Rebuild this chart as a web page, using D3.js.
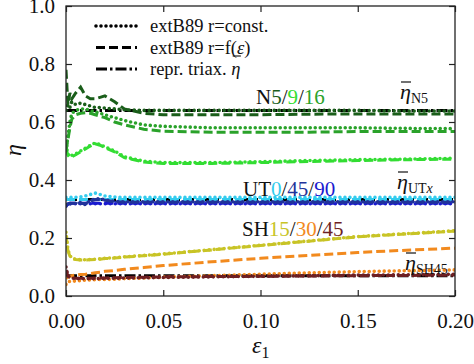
<!DOCTYPE html>
<html><head><meta charset="utf-8">
<script src="https://cdn.jsdelivr.net/npm/d3@7"></script>
<style>body{margin:0;background:#fff}svg text{font-family:"Liberation Serif","Times New Roman",serif !important}</style>
</head><body><svg id="c" width="474" height="364"></svg>
<script>
const strain = [0,0.001,0.002,0.003,0.005,0.0075,0.01,0.0125,0.015,0.0175,0.02,0.025,0.03,0.04,0.05,0.075,0.1,0.125,0.15,0.175,0.2];
const xTicks = [0,0.05,0.10,0.15,0.20];
const yTicks = [0,0.2,0.4,0.6,0.8,1.0];
const N5_const = [0.64,0.66,0.65,0.67,0.66,0.665,0.66,0.655,0.65,0.65,0.648,0.645,0.642,0.64,0.64,0.64,0.64,0.64,0.64,0.638,0.638];
const N5_f     = [0.78,0.66,0.70,0.68,0.70,0.72,0.69,0.68,0.68,0.685,0.69,0.67,0.645,0.63,0.625,0.625,0.625,0.627,0.628,0.628,0.628];
const N16_const= [0.50,0.55,0.60,0.63,0.64,0.645,0.645,0.64,0.635,0.63,0.625,0.615,0.605,0.59,0.585,0.58,0.58,0.58,0.58,0.578,0.577];
const N16_f    = [0.50,0.54,0.58,0.61,0.625,0.63,0.632,0.63,0.625,0.62,0.615,0.60,0.59,0.575,0.568,0.565,0.565,0.565,0.567,0.567,0.567];
const N9_const = [0.52,0.49,0.48,0.485,0.49,0.50,0.51,0.52,0.528,0.522,0.515,0.50,0.48,0.465,0.46,0.46,0.463,0.467,0.47,0.472,0.475];
const N9_f     = [0.51,0.485,0.478,0.48,0.487,0.497,0.507,0.517,0.525,0.52,0.512,0.497,0.477,0.462,0.457,0.457,0.46,0.464,0.467,0.47,0.472];
const UT0_const= [0.34,0.34,0.34,0.34,0.34,0.342,0.345,0.35,0.355,0.35,0.345,0.341,0.34,0.34,0.34,0.34,0.34,0.34,0.34,0.34,0.34];
const UT0_f    = [0.333,0.333,0.333,0.333,0.333,0.333,0.333,0.333,0.333,0.333,0.333,0.333,0.333,0.333,0.333,0.333,0.333,0.333,0.333,0.333,0.333];
const UT45_const=[0.31,0.315,0.318,0.32,0.32,0.322,0.315,0.33,0.335,0.335,0.332,0.326,0.325,0.325,0.325,0.325,0.325,0.325,0.325,0.325,0.325];
const UT45_f   = [0.315,0.318,0.32,0.32,0.32,0.32,0.318,0.328,0.332,0.333,0.33,0.325,0.323,0.323,0.323,0.323,0.323,0.323,0.323,0.323,0.323];
const UT90_const=[0.31,0.315,0.318,0.318,0.318,0.318,0.318,0.318,0.318,0.318,0.318,0.318,0.318,0.318,0.318,0.318,0.318,0.318,0.318,0.318,0.318];
const UT90_f   = [0.312,0.316,0.32,0.32,0.32,0.32,0.32,0.32,0.32,0.32,0.32,0.32,0.32,0.32,0.32,0.32,0.32,0.32,0.32,0.32,0.32];
const SH15_const=[0.22,0.16,0.14,0.13,0.127,0.125,0.125,0.126,0.127,0.128,0.13,0.132,0.135,0.14,0.145,0.16,0.175,0.19,0.205,0.215,0.225];
const SH15_f   = [0.21,0.155,0.138,0.13,0.126,0.124,0.124,0.125,0.126,0.127,0.129,0.131,0.134,0.139,0.144,0.159,0.174,0.189,0.204,0.214,0.224];
const SH30_const=[0.04,0.05,0.05,0.05,0.052,0.053,0.055,0.055,0.056,0.057,0.057,0.058,0.06,0.062,0.065,0.07,0.075,0.08,0.084,0.087,0.09];
const SH30_f   = [0.06,0.065,0.068,0.07,0.072,0.074,0.075,0.077,0.08,0.082,0.085,0.088,0.092,0.098,0.105,0.118,0.13,0.14,0.15,0.158,0.165];
const SH45_const=[0.10,0.07,0.065,0.062,0.06,0.06,0.06,0.06,0.06,0.06,0.061,0.061,0.062,0.063,0.064,0.066,0.068,0.07,0.072,0.073,0.075];
const SH45_f   = [0.09,0.068,0.064,0.062,0.061,0.061,0.061,0.061,0.062,0.062,0.062,0.063,0.064,0.065,0.066,0.067,0.068,0.069,0.07,0.071,0.072];
const reprX = [0,0.2];
const repr_N5 = [0.64,0.64];
const repr_UT = [0.333,0.333];
const repr_SH = [0.07,0.07];

const col = {N5:"#1a5e1a",N9:"#33dd33",N16:"#2aa22a",UT0:"#33ccee",UT45:"#22339a",UT90:"#1a1ad0",SH15:"#c8c426",SH30:"#f28a1e",SH45:"#6e1f22"};
const series = [
  ["N9",N9_const,N9_f],["N16",N16_const,N16_f],["N5",N5_const,N5_f],
  ["UT0",UT0_const,UT0_f],["UT90",UT90_const,UT90_f],["UT45",UT45_const,UT45_f],
  ["SH15",SH15_const,SH15_f],["SH30",SH30_const,SH30_f],["SH45",SH45_const,SH45_f]
];
const FF = "'Liberation Serif','Times New Roman',serif";
const svg = d3.select("#c");
const L=66,R=455,T=6,B=296;
const x = d3.scaleLinear().domain([0,0.2]).range([L,R]);
const y = d3.scaleLinear().domain([0,1]).range([B,T]);
const line = d3.line().x(d=>x(d[0])).y(d=>y(d[1]));
const pts = v => strain.map((s,i)=>[s,v[i]]);
svg.append("clipPath").attr("id","cl").append("rect").attr("x",L).attr("y",T).attr("width",R-L).attr("height",B-T);
const g = svg.append("g").attr("clip-path","url(#cl)");

const DOT = {dash:"0,5",w:3.6,cap:"round"}, DASH={dash:"9,4",w:3,cap:"butt"}, DD={dash:"11,3,2.5,3",w:3,cap:"butt"};
function draw(p,c,st){ g.append("path").datum(p).attr("d",line).attr("fill","none").attr("stroke",c).attr("stroke-width",st.w).attr("stroke-dasharray",st.dash).attr("stroke-linecap",st.cap); }

[[reprX,repr_N5],[reprX,repr_UT],[reprX,repr_SH]].forEach(([xs,v])=>draw(xs.map((s,i)=>[s,v[i]]),"#000",DD));
series.forEach(([k,c1,c2])=>{ draw(pts(c2),col[k],DASH); draw(pts(c1),col[k],DOT); });
g.append("path").datum(pts(UT45_const)).attr("d",line).attr("fill","none").attr("stroke",col.UT45).attr("stroke-width",1.2);

svg.append("rect").attr("x",L).attr("y",T).attr("width",R-L).attr("height",B-T).attr("fill","none").attr("stroke","#222").attr("stroke-width",1.3);
svg.append("g").attr("transform",`translate(0,${B})`).call(d3.axisBottom(x).tickValues(xTicks).tickFormat(d3.format(".2f")).tickSizeInner(-6).tickSizeOuter(0).tickPadding(17));
svg.append("g").attr("transform",`translate(${L},0)`).call(d3.axisLeft(y).tickValues(yTicks).tickFormat(d3.format(".1f")).tickSizeInner(-6).tickSizeOuter(0).tickPadding(11));
svg.append("g").attr("transform",`translate(0,${T})`).call(d3.axisTop(x).tickValues(xTicks).tickFormat("").tickSizeInner(-6).tickSizeOuter(0));
svg.append("g").attr("transform",`translate(${R},0)`).call(d3.axisRight(y).tickValues(yTicks).tickFormat("").tickSizeInner(-6).tickSizeOuter(0));
svg.selectAll(".domain").remove();
svg.selectAll("g").attr("font-family",FF);
svg.selectAll(".tick line").attr("stroke","#222").attr("stroke-width",1.2);
svg.selectAll(".tick text").style("font-family",FF).attr("font-size",21).attr("fill","#111");

const leg = [["extB89 r=const.",DOT],["extB89 r=f(",DASH],["repr. triax. ",DD]];
let reprText=null;
leg.forEach(([t,st],i)=>{
  const yy = 26+i*21.5;
  svg.append("line").attr("x1",96).attr("x2",137).attr("y1",yy).attr("y2",yy).attr("stroke","#000").attr("stroke-width",st.w).attr("stroke-dasharray",st.dash).attr("stroke-linecap",st.cap);
  const tx = svg.append("text").attr("x",150).attr("y",yy+6).attr("font-size",18.5).style("font-family",FF).attr("fill","#111").text(t);
  if(i==1){ tx.append("tspan").attr("font-style","italic").text("ε"); tx.append("tspan").text(")"); }
  if(i==2){ tx.append("tspan").attr("font-style","italic").text("η"); reprText=tx.node(); }
});
{ const n = reprText.lastChild; const ext = n.getComputedTextLength(); const tot=reprText.getComputedTextLength();
  const x0 = 150+tot-ext;
  svg.append("line").attr("x1",x0+1.5).attr("x2",x0+ext+0.5).attr("y1",56).attr("y2",56).attr("stroke","#111").attr("stroke-width",1.1); }

function multi(xp,yp,parts){
  const t = svg.append("text").attr("x",xp).attr("y",yp).attr("font-size",21).style("font-family",FF);
  parts.forEach(([s,c])=>t.append("tspan").attr("fill",c).text(s));
}
multi(256,104,[["N","#111"],["5",col.N5],["/","#111"],["9",col.N9],["/","#111"],["16",col.N16]]);
multi(243,196,[["UT","#111"],["0",col.UT0],["/","#111"],["45",col.UT45],["/","#111"],["90",col.UT90]]);
multi(242,236,[["SH","#111"],["15",col.SH15],["/","#111"],["30",col.SH30],["/","#111"],["45",col.SH45]]);

function etaBar(xp,yp,sub,subItalic){
  const t = svg.append("text").attr("x",xp).attr("y",yp).attr("font-size",22).style("font-family",FF).attr("fill","#111");
  t.append("tspan").attr("font-style","italic").text("η");
  const s=t.append("tspan").attr("font-size",14).attr("dy",4).text(sub);
  if(subItalic) s.append("tspan").attr("font-style","italic").text(subItalic);
  svg.append("line").attr("x1",xp+1).attr("x2",xp+11).attr("y1",yp-17).attr("y2",yp-17).attr("stroke","#111").attr("stroke-width",1.2);
}
etaBar(400,99,"N5");
etaBar(397,189,"UT","x");
etaBar(405,270,"SH45");

svg.append("text").attr("transform","translate(21,150) rotate(-90)").attr("text-anchor","middle").attr("font-size",24).attr("font-style","italic").style("font-family",FF).attr("fill","#111").text("η");
const xl = svg.append("text").attr("x",252).attr("y",353).attr("font-size",24).attr("font-style","italic").style("font-family",FF).attr("fill","#111").text("ε");
xl.append("tspan").attr("font-style","normal").attr("font-size",16).attr("dy",5).text("1");
</script></body></html>
